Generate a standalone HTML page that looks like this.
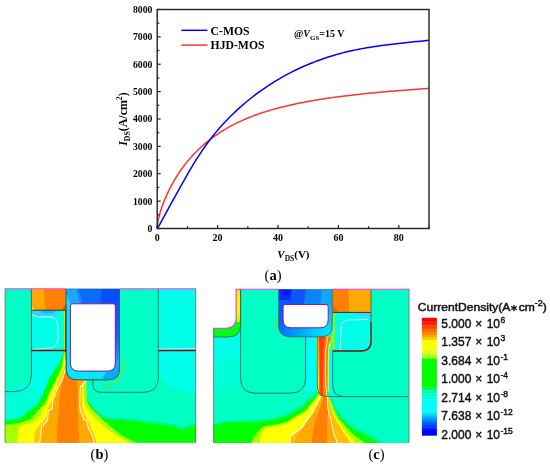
<!DOCTYPE html>
<html><head><meta charset="utf-8"><title>IDS-VDS and current density</title>
<style>html,body{margin:0;padding:0;background:#fff;}body{width:550px;height:467px;overflow:hidden;}svg{display:block;}</style>
</head><body>
<svg width="550" height="467" viewBox="0 0 550 467">
<rect width="550" height="467" fill="#ffffff"/>
<clipPath id="cb"><rect x="157.2" y="9.5" width="271.8" height="219.0"/></clipPath>
<g clip-path="url(#cb)" fill="none" stroke-width="1.5">
<path d="M157.20,228.51 L157.32,225.97 L157.70,223.01 L158.32,219.67 L159.20,215.98 L160.32,211.99 L161.69,207.74 L163.31,203.26 L165.19,198.59 L167.31,193.78 L169.68,188.87 L172.30,183.89 L174.46,180.08 L176.61,176.51 L178.77,173.15 L180.93,169.98 L183.09,166.98 L185.24,164.14 L187.40,161.45 L189.56,158.89 L191.71,156.45 L193.87,154.12 L196.03,151.90 L198.19,149.77 L200.34,147.73 L202.50,145.77 L204.66,143.89 L206.81,142.09 L208.97,140.35 L211.13,138.68 L213.29,137.08 L215.44,135.53 L217.60,134.04 L219.76,132.61 L221.91,131.23 L224.07,129.90 L226.23,128.61 L228.39,127.38 L230.54,126.19 L232.70,125.04 L234.86,123.94 L237.01,122.87 L239.17,121.84 L241.33,120.85 L243.49,119.89 L245.64,118.96 L247.80,118.06 L249.96,117.20 L252.11,116.36 L254.27,115.54 L256.43,114.76 L258.59,113.99 L260.74,113.25 L262.90,112.54 L265.06,111.84 L267.21,111.17 L269.37,110.51 L271.53,109.88 L273.69,109.26 L275.84,108.66 L278.00,108.08 L280.16,107.52 L282.31,106.97 L284.47,106.43 L286.63,105.91 L288.79,105.41 L290.94,104.92 L293.10,104.44 L295.26,103.97 L297.41,103.52 L299.57,103.08 L301.73,102.65 L303.89,102.23 L306.04,101.82 L308.20,101.42 L310.36,101.04 L312.51,100.66 L314.67,100.29 L316.83,99.93 L318.99,99.58 L321.14,99.23 L323.30,98.90 L325.46,98.57 L327.61,98.25 L329.77,97.94 L331.93,97.63 L334.09,97.34 L336.24,97.04 L338.40,96.76 L340.56,96.48 L342.71,96.21 L344.87,95.94 L347.03,95.68 L349.19,95.42 L351.34,95.17 L353.50,94.92 L355.66,94.68 L357.81,94.44 L359.97,94.21 L362.13,93.98 L364.29,93.76 L366.44,93.54 L368.60,93.32 L370.76,93.11 L372.91,92.90 L375.07,92.69 L377.23,92.49 L379.39,92.29 L381.54,92.10 L383.70,91.91 L385.86,91.72 L388.01,91.53 L390.17,91.35 L392.33,91.17 L394.49,90.99 L396.64,90.81 L398.80,90.64 L400.96,90.46 L403.11,90.29 L405.27,90.13 L407.43,89.96 L409.59,89.79 L411.74,89.63 L413.90,89.47 L416.06,89.31 L418.21,89.15 L420.37,89.00 L422.53,88.84 L424.69,88.69 L426.84,88.54 L429.00,88.38" stroke="#ff3333"/>
<path d="M157.20,228.50 L157.32,228.46 L157.70,227.92 L158.32,226.87 L159.20,225.33 L160.32,223.31 L161.69,220.81 L163.31,217.85 L165.19,214.42 L167.31,210.54 L169.68,206.22 L172.30,201.46 L174.46,197.56 L176.61,193.68 L178.77,189.81 L180.93,185.95 L183.09,182.12 L185.24,178.29 L187.40,174.49 L189.56,170.71 L191.71,167.01 L193.87,163.42 L196.03,159.95 L198.19,156.59 L200.34,153.32 L202.50,150.13 L204.66,147.03 L206.81,144.01 L208.97,141.08 L211.13,138.24 L213.29,135.50 L215.44,132.85 L217.60,130.28 L219.76,127.79 L221.91,125.36 L224.07,123.01 L226.23,120.72 L228.39,118.49 L230.54,116.32 L232.70,114.19 L234.86,112.13 L237.01,110.11 L239.17,108.14 L241.33,106.21 L243.49,104.33 L245.64,102.50 L247.80,100.71 L249.96,98.96 L252.11,97.25 L254.27,95.58 L256.43,93.95 L258.59,92.35 L260.74,90.80 L262.90,89.28 L265.06,87.79 L267.21,86.34 L269.37,84.92 L271.53,83.54 L273.69,82.18 L275.84,80.86 L278.00,79.57 L280.16,78.31 L282.31,77.08 L284.47,75.88 L286.63,74.70 L288.79,73.56 L290.94,72.44 L293.10,71.35 L295.26,70.29 L297.41,69.25 L299.57,68.24 L301.73,67.25 L303.89,66.29 L306.04,65.35 L308.20,64.44 L310.36,63.55 L312.51,62.69 L314.67,61.85 L316.83,61.03 L318.99,60.23 L321.14,59.46 L323.30,58.71 L325.46,57.98 L327.61,57.27 L329.77,56.58 L331.93,55.91 L334.09,55.27 L336.24,54.64 L338.40,54.04 L340.56,53.45 L342.71,52.88 L344.87,52.34 L347.03,51.81 L349.19,51.30 L351.34,50.81 L353.50,50.34 L355.66,49.89 L357.81,49.45 L359.97,49.03 L362.13,48.62 L364.29,48.23 L366.44,47.85 L368.60,47.49 L370.76,47.14 L372.91,46.79 L375.07,46.47 L377.23,46.15 L379.39,45.84 L381.54,45.54 L383.70,45.25 L385.86,44.97 L388.01,44.69 L390.17,44.42 L392.33,44.16 L394.49,43.91 L396.64,43.66 L398.80,43.42 L400.96,43.18 L403.11,42.95 L405.27,42.72 L407.43,42.50 L409.59,42.27 L411.74,42.05 L413.90,41.84 L416.06,41.62 L418.21,41.41 L420.37,41.20 L422.53,40.99 L424.69,40.78 L426.84,40.58 L429.00,40.37" stroke="#0000ff"/>
</g>
<rect x="157.2" y="9.5" width="271.8" height="219.0" fill="none" stroke="#222" stroke-width="1.4"/>
<line x1="157.2" y1="228.50" x2="160.7" y2="228.50" stroke="#222" stroke-width="1.2"/>
<text x="152.4" y="231.90" text-anchor="end" font-family="'Liberation Serif', serif" font-weight="bold" font-size="9.7">0</text>
<line x1="157.2" y1="214.81" x2="159.4" y2="214.81" stroke="#222" stroke-width="1.2"/>
<line x1="157.2" y1="201.12" x2="160.7" y2="201.12" stroke="#222" stroke-width="1.2"/>
<text x="152.4" y="204.52" text-anchor="end" font-family="'Liberation Serif', serif" font-weight="bold" font-size="9.7">1000</text>
<line x1="157.2" y1="187.43" x2="159.4" y2="187.43" stroke="#222" stroke-width="1.2"/>
<line x1="157.2" y1="173.74" x2="160.7" y2="173.74" stroke="#222" stroke-width="1.2"/>
<text x="152.4" y="177.14" text-anchor="end" font-family="'Liberation Serif', serif" font-weight="bold" font-size="9.7">2000</text>
<line x1="157.2" y1="160.05" x2="159.4" y2="160.05" stroke="#222" stroke-width="1.2"/>
<line x1="157.2" y1="146.36" x2="160.7" y2="146.36" stroke="#222" stroke-width="1.2"/>
<text x="152.4" y="149.76" text-anchor="end" font-family="'Liberation Serif', serif" font-weight="bold" font-size="9.7">3000</text>
<line x1="157.2" y1="132.67" x2="159.4" y2="132.67" stroke="#222" stroke-width="1.2"/>
<line x1="157.2" y1="118.98" x2="160.7" y2="118.98" stroke="#222" stroke-width="1.2"/>
<text x="152.4" y="122.38" text-anchor="end" font-family="'Liberation Serif', serif" font-weight="bold" font-size="9.7">4000</text>
<line x1="157.2" y1="105.29" x2="159.4" y2="105.29" stroke="#222" stroke-width="1.2"/>
<line x1="157.2" y1="91.60" x2="160.7" y2="91.60" stroke="#222" stroke-width="1.2"/>
<text x="152.4" y="95.00" text-anchor="end" font-family="'Liberation Serif', serif" font-weight="bold" font-size="9.7">5000</text>
<line x1="157.2" y1="77.91" x2="159.4" y2="77.91" stroke="#222" stroke-width="1.2"/>
<line x1="157.2" y1="64.22" x2="160.7" y2="64.22" stroke="#222" stroke-width="1.2"/>
<text x="152.4" y="67.62" text-anchor="end" font-family="'Liberation Serif', serif" font-weight="bold" font-size="9.7">6000</text>
<line x1="157.2" y1="50.53" x2="159.4" y2="50.53" stroke="#222" stroke-width="1.2"/>
<line x1="157.2" y1="36.84" x2="160.7" y2="36.84" stroke="#222" stroke-width="1.2"/>
<text x="152.4" y="40.24" text-anchor="end" font-family="'Liberation Serif', serif" font-weight="bold" font-size="9.7">7000</text>
<line x1="157.2" y1="23.15" x2="159.4" y2="23.15" stroke="#222" stroke-width="1.2"/>
<line x1="157.2" y1="9.46" x2="160.7" y2="9.46" stroke="#222" stroke-width="1.2"/>
<text x="152.4" y="12.86" text-anchor="end" font-family="'Liberation Serif', serif" font-weight="bold" font-size="9.7">8000</text>
<line x1="157.20" y1="228.5" x2="157.20" y2="225.0" stroke="#222" stroke-width="1.2"/>
<text x="157.20" y="240.6" text-anchor="middle" font-family="'Liberation Serif', serif" font-weight="bold" font-size="10">0</text>
<line x1="187.40" y1="228.5" x2="187.40" y2="226.3" stroke="#222" stroke-width="1.2"/>
<line x1="217.60" y1="228.5" x2="217.60" y2="225.0" stroke="#222" stroke-width="1.2"/>
<text x="217.60" y="240.6" text-anchor="middle" font-family="'Liberation Serif', serif" font-weight="bold" font-size="10">20</text>
<line x1="247.80" y1="228.5" x2="247.80" y2="226.3" stroke="#222" stroke-width="1.2"/>
<line x1="278.00" y1="228.5" x2="278.00" y2="225.0" stroke="#222" stroke-width="1.2"/>
<text x="278.00" y="240.6" text-anchor="middle" font-family="'Liberation Serif', serif" font-weight="bold" font-size="10">40</text>
<line x1="308.20" y1="228.5" x2="308.20" y2="226.3" stroke="#222" stroke-width="1.2"/>
<line x1="338.40" y1="228.5" x2="338.40" y2="225.0" stroke="#222" stroke-width="1.2"/>
<text x="338.40" y="240.6" text-anchor="middle" font-family="'Liberation Serif', serif" font-weight="bold" font-size="10">60</text>
<line x1="368.60" y1="228.5" x2="368.60" y2="226.3" stroke="#222" stroke-width="1.2"/>
<line x1="398.80" y1="228.5" x2="398.80" y2="225.0" stroke="#222" stroke-width="1.2"/>
<text x="398.80" y="240.6" text-anchor="middle" font-family="'Liberation Serif', serif" font-weight="bold" font-size="10">80</text>
<line x1="429.00" y1="228.5" x2="429.00" y2="226.3" stroke="#222" stroke-width="1.2"/>
<text x="277.3" y="257.8" font-family="'Liberation Serif', serif" font-weight="bold" font-size="11"><tspan font-style="italic">V</tspan><tspan font-size="7.5" dy="2.8">DS</tspan><tspan dy="-2.8">(V)</tspan></text>
<text transform="translate(126.8,145.8) rotate(-90)" font-family="'Liberation Serif', serif" font-weight="bold" font-size="11.9"><tspan font-style="italic">I</tspan><tspan font-size="7.8" dy="2.8">DS</tspan><tspan dy="-2.8">(A/cm</tspan><tspan font-size="7.8" dy="-4.5">2</tspan><tspan dy="4.5">)</tspan></text>
<line x1="181.3" y1="30.3" x2="207.5" y2="30.3" stroke="#0000ff" stroke-width="1.5"/>
<line x1="181.3" y1="45.1" x2="207.5" y2="45.1" stroke="#ff3333" stroke-width="1.5"/>
<text x="210.6" y="34.6" font-family="'Liberation Serif', serif" font-weight="bold" font-size="11.7">C-MOS</text>
<text x="210.6" y="48.9" font-family="'Liberation Serif', serif" font-weight="bold" font-size="11.7">HJD-MOS</text>
<text x="294" y="36.8" font-family="'Liberation Serif', serif" font-weight="bold" font-size="10">@<tspan font-style="italic">V</tspan><tspan font-size="7" dy="2.8">GS</tspan><tspan dy="-2.8">=15 V</tspan></text>
<text x="264.6" y="279.6" font-family="'Liberation Serif', serif" font-size="14.5">(<tspan font-weight="bold">a</tspan>)</text>
<clipPath id="clipb"><rect x="4.8" y="288.8" width="191.2" height="154.0"/></clipPath>
<g clip-path="url(#clipb)">
<rect x="4.8" y="288.8" width="191.2" height="154.0" fill="#00ffc4"/>
<polygon points="158.3,288.8 196.0,288.8 196.0,350.3 158.3,350.3" fill="#00ffe8" />
<path d="M158.3,350.3 H196.0 V394.5 Q183,391.5 174.3,388 Q165,383 158.3,375 Z" fill="#00ffe8"/>
<polygon points="158.3,351.0 196.0,351.0 196.0,356.0 158.3,357.0" fill="#00fff4" />
<polygon points="31.4,350.3 66.2,350.3 66.2,382.0 50.0,400.0 38.0,398.0 31.4,380.0" fill="#00ffe8" />
<polygon points="4.8,392.0 31.4,380.0 38.0,398.0 50.0,400.0 35.0,415.0 4.8,422.0" fill="#00ffd8" />
<polygon points="31.4,288.8 65.8,288.8 65.8,310.2 31.4,310.2" fill="#ff7f00" />
<polygon points="31.4,288.8 43.5,288.8 45.5,310.2 31.4,310.2" fill="#ffaa00" />
<polygon points="31.4,306.0 35.0,310.2 31.4,310.2" fill="#ffff00" />
<polygon points="62.0,310.2 65.8,304.0 65.8,310.2" fill="#ff4000" />
<polygon points="31.4,310.2 65.8,310.2 65.8,350.3 31.4,350.3" fill="#00ffe8" />
<linearGradient id="gbw" x1="0" x2="1" y1="0" y2="0"><stop offset="0" stop-color="#00ffe8"/><stop offset="0.45" stop-color="#40ff40"/><stop offset="0.75" stop-color="#e0ff00"/><stop offset="1" stop-color="#ff9000"/></linearGradient>
<rect x="62.2" y="310.2" width="3.8" height="45" fill="url(#gbw)"/>
<polygon points="31.4,310.6 60.0,310.6 57.0,314.0 54.0,317.0 40.0,316.5 31.4,315.5" fill="#30d4ff" />
<polygon points="40.0,310.6 56.0,310.6 52.0,313.5 44.0,313.5" fill="#10b8ff" />
<path d="M31.8,314.8 Q38,318 45,317 L52,317 Q57.8,318.5 58,328 L57.6,341 Q56,347.5 49,348.3 L32.8,349.6" fill="none" stroke="#f0fff8" stroke-width="0.9"/>
<polyline points="65.5,310.5 65.5,374.0" fill="none" stroke="#c01000" stroke-width="0.90" />
<path d="M123.5,360 Q124.5,382 106,387" fill="none" stroke="#30ee98" stroke-width="4.6" stroke-linecap="round" opacity="0.9"/>
<path d="M31.4,288.8 V374 Q31.4,391.6 14,391.6 H4.8" fill="none" stroke="#505050" stroke-width="0.8"/>
<polyline points="31.4,310.2 66.0,310.2" fill="none" stroke="#303030" stroke-width="1.00" />
<polygon points="64.5,350.0 63.9,350.0 63.9,352.0 63.2,352.0 63.2,354.0 62.6,354.0 62.6,356.0 62.0,356.0 62.0,358.0 61.2,358.0 61.2,360.0 60.3,360.0 60.3,362.0 59.5,362.0 59.5,364.0 58.1,364.0 58.1,366.0 56.8,366.0 56.8,368.0 55.4,368.0 55.4,370.0 54.0,370.0 54.0,372.0 52.8,372.0 52.8,374.0 51.5,374.0 51.5,376.0 50.2,376.0 50.2,378.2 49.0,378.2 49.0,380.4 48.2,380.4 48.2,382.5 47.3,382.5 47.3,384.7 46.5,384.7 46.5,386.8 45.6,386.8 45.6,388.9 44.7,388.9 44.7,391.1 43.8,391.1 43.8,393.2 42.7,393.2 42.7,395.3 41.7,395.3 41.7,397.5 40.6,397.5 40.6,399.6 39.5,399.6 39.5,401.8 38.5,401.8 38.5,404.0 36.3,404.0 36.3,406.0 34.4,406.0 34.4,407.6 32.5,407.6 32.5,409.3 30.4,409.3 30.4,410.4 28.2,410.4 28.2,411.4 26.6,411.4 26.6,413.5 25.0,413.5 25.0,415.7 22.0,415.7 22.0,418.0 19.7,418.0 19.7,418.5 17.3,418.5 17.3,419.0 15.0,419.0 15.0,419.5 13.0,419.5 13.0,419.8 10.9,419.8 10.9,420.1 8.9,420.1 8.9,420.4 6.8,420.4 6.8,420.7 4.8,420.7 4.8,421.0 4.8,444.3 196.0,444.3 196.0,424.0 194.1,424.0 194.1,424.6 192.1,424.6 192.1,425.2 190.2,425.2 190.2,425.8 188.3,425.8 188.3,426.8 186.3,426.8 186.3,427.7 184.4,427.7 184.4,428.7 182.5,428.7 182.5,428.0 180.6,428.0 180.6,427.2 178.6,427.2 178.6,426.5 176.7,426.5 176.7,425.8 174.3,425.8 174.3,425.3 171.8,425.3 171.8,424.9 169.4,424.9 169.4,424.4 167.0,424.4 167.0,423.9 164.9,423.9 164.9,423.7 162.7,423.7 162.7,423.5 160.6,423.5 160.6,423.3 158.5,423.3 158.5,423.1 156.3,423.1 156.3,422.8 154.2,422.8 154.2,422.6 152.1,422.6 152.1,422.4 149.9,422.4 149.9,422.2 147.8,422.2 147.8,422.0 145.5,422.0 145.5,421.6 143.2,421.6 143.2,421.2 140.8,421.2 140.8,420.8 138.5,420.8 138.5,420.4 136.2,420.4 136.2,420.0 133.9,420.0 133.9,419.8 131.6,419.8 131.6,419.6 129.3,419.6 129.3,419.5 127.0,419.5 127.0,419.3 124.7,419.3 124.7,419.1 122.4,419.1 122.4,419.1 120.1,419.1 120.1,419.1 117.7,419.1 117.7,419.1 115.4,419.1 115.4,419.1 113.1,419.1 113.1,419.1 110.7,419.1 110.7,418.5 108.4,418.5 108.4,417.9 106.0,417.9 106.0,417.3 103.3,417.3 103.3,416.0 100.7,416.0 100.7,414.6 98.6,414.6 98.6,412.5 96.4,412.5 96.4,410.3 94.2,410.3 94.2,407.6 92.1,407.6 92.1,405.0 89.9,405.0 89.9,402.3 87.8,402.3 87.8,399.6 87.3,399.6 87.3,397.5 86.8,397.5 86.8,395.3 86.4,395.3 86.4,393.2 86.1,393.2 86.1,391.0 85.7,391.0 85.7,388.9 85.7,388.9 85.7,386.4 85.7,386.4 85.7,383.9 85.7,383.9 85.7,381.4 85.7,381.4 85.7,379.8 66.2,379.8" fill="#00ff00" />
<polyline points="196.0,424.0 194.1,424.0 194.1,424.6 192.1,424.6 192.1,425.2 190.2,425.2 190.2,425.8 188.3,425.8 188.3,426.8 186.3,426.8 186.3,427.7 184.4,427.7 184.4,428.7 182.5,428.7 182.5,428.0 180.6,428.0 180.6,427.2 178.6,427.2 178.6,426.5 176.7,426.5 176.7,425.8 174.3,425.8 174.3,425.3 171.8,425.3 171.8,424.9 169.4,424.9 169.4,424.4 167.0,424.4 167.0,423.9 164.9,423.9 164.9,423.7 162.7,423.7 162.7,423.5 160.6,423.5 160.6,423.3 158.5,423.3 158.5,423.1 156.3,423.1 156.3,422.8 154.2,422.8 154.2,422.6 152.1,422.6 152.1,422.4 149.9,422.4 149.9,422.2 147.8,422.2 147.8,422.0 145.5,422.0 145.5,421.6 143.2,421.6 143.2,421.2 140.8,421.2 140.8,420.8 138.5,420.8 138.5,420.4 136.2,420.4 136.2,420.0 133.9,420.0 133.9,419.8 131.6,419.8 131.6,419.6 129.3,419.6 129.3,419.5 127.0,419.5 127.0,419.3 124.7,419.3 124.7,419.1 122.4,419.1 122.4,419.1 120.1,419.1 120.1,419.1 117.7,419.1 117.7,419.1 115.4,419.1 115.4,419.1 113.1,419.1 113.1,419.1 110.7,419.1 110.7,418.5 108.4,418.5 108.4,417.9 106.0,417.9 106.0,417.3 103.3,417.3 103.3,416.0 100.7,416.0 100.7,414.6 98.6,414.6 98.6,412.5 96.4,412.5 96.4,410.3" fill="none" stroke="#00f890" stroke-width="2.00" />
<polygon points="65.0,351.5 64.3,351.5 64.3,353.7 63.7,353.7 63.7,355.8 63.0,355.8 63.0,358.0 62.8,358.0 62.8,360.1 62.5,360.1 62.5,362.2 62.2,362.2 62.2,364.4 62.0,364.4 62.0,366.5 61.2,366.5 61.2,368.8 60.5,368.8 60.5,371.0 59.5,371.0 59.5,373.2 58.5,373.2 58.5,375.5 57.2,375.5 57.2,377.9 56.0,377.9 56.0,380.4 55.0,380.4 55.0,382.4 54.0,382.4 54.0,384.5 52.9,384.5 52.9,386.8 51.8,386.8 51.8,389.0 50.6,389.0 50.6,391.0 49.5,391.0 49.5,393.0 48.7,393.0 48.7,395.2 48.0,395.2 48.0,397.3 47.2,397.3 47.2,399.5 46.1,399.5 46.1,402.0 45.0,402.0 45.0,404.5 42.5,404.5 42.5,406.8 40.0,406.8 40.0,409.0 38.3,409.0 38.3,411.0 36.7,411.0 36.7,413.0 35.0,413.0 35.0,415.0 33.0,415.0 33.0,417.2 31.0,417.2 31.0,419.5 28.8,419.5 28.8,420.2 26.5,420.2 26.5,421.0 24.2,421.0 24.2,421.8 22.0,421.8 22.0,422.5 19.7,422.5 19.7,423.0 17.3,423.0 17.3,423.5 15.0,423.5 15.0,424.0 13.0,424.0 13.0,424.2 10.9,424.2 10.9,424.4 8.9,424.4 8.9,424.6 6.8,424.6 6.8,424.8 4.8,424.8 4.8,425.0 4.8,444.3 140.0,444.3 138.1,444.3 138.1,443.3 136.2,443.3 136.2,442.2 134.3,442.2 134.3,441.2 132.0,441.2 132.0,440.1 129.7,440.1 129.7,438.9 127.4,438.9 127.4,437.8 125.1,437.8 125.1,436.6 122.8,436.6 122.8,435.5 120.5,435.5 120.5,433.7 118.3,433.7 118.3,431.8 116.0,431.8 116.0,430.0 114.0,430.0 114.0,428.3 112.0,428.3 112.0,426.7 110.0,426.7 110.0,425.0 108.0,425.0 108.0,423.3 106.0,423.3 106.0,421.7 104.0,421.7 104.0,420.0 102.0,420.0 102.0,418.0 100.0,418.0 100.0,416.0 98.0,416.0 98.0,414.0 96.0,414.0 96.0,412.0 94.0,412.0 94.0,410.0 92.0,410.0 92.0,408.0 90.5,408.0 90.5,406.0 89.0,406.0 89.0,404.0 88.0,404.0 88.0,401.5 87.0,401.5 87.0,399.0 86.9,399.0 86.9,397.0 86.8,397.0 86.8,395.0 86.6,395.0 86.6,393.0 86.5,393.0 86.5,391.0 86.5,391.0 86.5,388.8 86.5,388.8 86.5,386.5 86.5,386.5 86.5,384.3 86.5,384.3 86.5,382.0 86.5,382.0 86.5,379.8 66.2,379.8" fill="#a8ff00" />
<polygon points="65.5,352.0 65.0,352.0 65.0,354.0 64.5,354.0 64.5,356.0 64.0,356.0 64.0,358.0 63.8,358.0 63.8,360.2 63.5,360.2 63.5,362.4 63.2,362.4 63.2,364.6 63.0,364.6 63.0,366.8 62.5,366.8 62.5,368.9 62.0,368.9 62.0,371.0 60.9,371.0 60.9,373.7 59.8,373.7 59.8,376.4 58.7,376.4 58.7,378.5 57.6,378.5 57.6,380.7 56.5,380.7 56.5,382.9 55.5,382.9 55.5,385.0 54.4,385.0 54.4,386.8 53.2,386.8 53.2,388.5 52.0,388.5 52.0,390.9 50.7,390.9 50.7,393.2 49.8,393.2 49.8,395.3 48.9,395.3 48.9,397.5 48.0,397.5 48.0,399.6 47.2,399.6 47.2,402.3 46.5,402.3 46.5,405.0 44.5,405.0 44.5,407.0 42.5,407.0 42.5,409.0 42.0,409.0 42.0,411.3 41.5,411.3 41.5,413.7 41.0,413.7 41.0,416.0 38.5,416.0 38.5,418.5 36.0,418.5 36.0,421.0 33.0,421.0 33.0,423.0 30.7,423.0 30.7,423.5 28.3,423.5 28.3,424.0 26.0,424.0 26.0,424.5 24.0,424.5 24.0,425.0 22.0,425.0 22.0,425.5 20.0,425.5 20.0,426.0 19.3,426.0 19.3,428.0 18.7,428.0 18.7,430.0 18.0,430.0 18.0,432.0 17.8,432.0 17.8,434.1 17.7,434.1 17.7,436.1 17.5,436.1 17.5,438.1 17.3,438.1 17.3,440.2 17.2,440.2 17.2,442.2 17.0,442.2 17.0,444.3 132.4,444.3 130.5,444.3 130.5,443.1 128.6,443.1 128.6,441.8 126.6,441.8 126.6,440.6 124.7,440.6 124.7,439.3 122.3,439.3 122.3,437.9 119.8,437.9 119.8,436.4 117.4,436.4 117.4,434.9 115.0,434.9 115.0,433.5 112.5,433.5 112.5,431.8 110.0,431.8 110.0,430.0 107.2,430.0 107.2,427.8 104.5,427.8 104.5,425.5 102.6,425.5 102.6,423.8 100.7,423.8 100.7,422.1 98.6,422.1 98.6,420.5 96.4,420.5 96.4,418.9 94.8,418.9 94.8,416.8 93.2,416.8 93.2,414.6 91.1,414.6 91.1,412.5 88.9,412.5 88.9,410.3 87.3,410.3 87.3,408.1 85.7,408.1 85.7,406.0 85.1,406.0 85.1,403.9 84.6,403.9 84.6,401.7 84.0,401.7 84.0,399.6 83.9,399.6 83.9,397.5 83.8,397.5 83.8,395.3 83.6,395.3 83.6,393.1 83.5,393.1 83.5,391.0 83.5,391.0 83.5,388.6 83.5,388.6 83.5,386.2 83.6,386.2 83.6,383.8 83.6,383.8 83.6,381.4 84.0,381.4 84.0,379.8 66.2,379.8" fill="#ffff00" />
<polygon points="66.0,356.0 65.7,356.0 65.7,358.0 65.4,358.0 65.4,360.0 65.1,360.0 65.1,362.0 64.8,362.0 64.8,364.0 64.5,364.0 64.5,366.0 64.3,366.0 64.3,368.0 64.0,368.0 64.0,370.0 63.0,370.0 63.0,372.5 62.0,372.5 62.0,375.0 61.0,375.0 61.0,377.0 60.0,377.0 60.0,379.0 59.0,379.0 59.0,381.0 58.0,381.0 58.0,383.0 57.4,383.0 57.4,385.0 56.9,385.0 56.9,387.0 56.3,387.0 56.3,389.0 55.5,389.0 55.5,391.3 54.8,391.3 54.8,393.7 54.0,393.7 54.0,396.0 53.2,396.0 53.2,398.0 52.3,398.0 52.3,400.0 51.5,400.0 51.5,402.0 50.5,402.0 50.5,404.0 49.5,404.0 49.5,406.0 48.5,406.0 48.5,408.0 47.6,408.0 47.6,410.0 47.3,410.0 47.3,412.0 47.0,412.0 47.0,414.0 46.8,414.0 46.8,416.0 46.5,416.0 46.5,418.0 44.8,418.0 44.8,420.5 43.0,420.5 43.0,423.0 40.5,423.0 40.5,425.5 38.0,425.5 38.0,428.0 36.5,428.0 36.5,430.5 35.0,430.5 35.0,433.0 34.8,433.0 34.8,435.3 34.5,435.3 34.5,437.5 34.3,437.5 34.3,439.8 34.0,439.8 34.0,442.0 33.8,442.0 33.8,444.3 97.0,444.3 96.5,444.3 96.5,442.2 96.0,442.2 96.0,440.1 95.5,440.1 95.5,438.1 95.0,438.1 95.0,436.0 94.2,436.0 94.2,434.0 93.3,434.0 93.3,432.0 92.5,432.0 92.5,430.0 91.5,430.0 91.5,427.5 90.5,427.5 90.5,425.0 89.5,425.0 89.5,422.5 88.5,422.5 88.5,420.0 87.2,420.0 87.2,418.0 86.0,418.0 86.0,416.0 84.8,416.0 84.8,413.5 83.5,413.5 83.5,411.0 83.0,411.0 83.0,409.0 82.5,409.0 82.5,407.0 82.0,407.0 82.0,405.0 82.0,405.0 82.0,402.8 82.0,402.8 82.0,400.5 82.0,400.5 82.0,398.2 82.0,398.2 82.0,396.0 82.1,396.0 82.1,394.0 82.2,394.0 82.2,392.0 82.3,392.0 82.3,390.0 82.4,390.0 82.4,388.0 82.5,388.0 82.5,386.0 83.3,386.0 83.3,383.9 84.2,383.9 84.2,381.9 85.0,381.9 85.0,379.8 66.2,379.8" fill="#ffc800" />
<polygon points="65.6,360.0 65.5,360.0 65.5,362.4 65.4,362.4 65.4,364.8 65.3,364.8 65.3,367.2 65.2,367.2 65.2,369.6 65.1,369.6 65.1,372.0 64.4,372.0 64.4,374.2 63.7,374.2 63.7,376.4 63.0,376.4 63.0,378.6 62.0,378.6 62.0,380.8 60.9,380.8 60.9,382.9 59.8,382.9 59.8,385.0 58.7,385.0 58.7,387.2 57.1,387.2 57.1,390.0 56.4,390.0 56.4,392.1 55.7,392.1 55.7,394.3 55.0,394.3 55.0,396.4 54.0,396.4 54.0,398.2 53.0,398.2 53.0,400.0 52.8,400.0 52.8,402.3 52.6,402.3 52.6,404.6 52.4,404.6 52.4,406.9 52.2,406.9 52.2,409.2 50.4,409.2 50.4,410.4 48.5,410.4 48.5,411.5 48.3,411.5 48.3,413.9 48.0,413.9 48.0,416.4 47.8,416.4 47.8,418.8 47.6,418.8 47.6,421.2 45.6,421.2 45.6,423.6 43.6,423.6 43.6,426.1 41.6,426.1 41.6,428.5 41.3,428.5 41.3,430.8 41.1,430.8 41.1,433.0 40.8,433.0 40.8,435.3 40.6,435.3 40.6,437.5 40.3,437.5 40.3,439.8 40.1,439.8 40.1,442.0 39.8,442.0 39.8,444.3 94.5,444.3 94.0,444.3 94.0,442.0 93.5,442.0 93.5,439.6 93.0,439.6 93.0,437.3 92.5,437.3 92.5,435.0 91.2,435.0 91.2,432.5 90.0,432.5 90.0,430.0 88.9,430.0 88.9,427.5 87.8,427.5 87.8,425.0 87.3,425.0 87.3,422.5 86.8,422.5 86.8,420.0 83.6,420.0 83.6,416.8 82.5,416.8 82.5,414.6 81.4,414.6 81.4,412.5 80.9,412.5 80.9,410.3 80.3,410.3 80.3,408.2 79.8,408.2 79.8,406.0 79.8,406.0 79.8,403.6 79.8,403.6 79.8,401.2 79.8,401.2 79.8,398.8 79.8,398.8 79.8,396.4 79.9,396.4 79.9,394.3 80.0,394.3 80.0,392.1 80.2,392.1 80.2,390.0 80.3,390.0 80.3,387.8 80.4,387.8 80.4,385.7 82.5,385.7 82.5,383.3 84.6,383.3 84.6,380.9 66.2,379.8" fill="#ffa800" />
<polygon points="65.8,362.0 65.7,362.0 65.7,364.0 65.6,364.0 65.6,366.0 65.5,366.0 65.5,368.0 65.4,368.0 65.4,370.0 65.3,370.0 65.3,372.0 64.9,372.0 64.9,374.2 64.4,374.2 64.4,376.3 64.0,376.3 64.0,378.5 63.3,378.5 63.3,380.7 62.7,380.7 62.7,382.8 62.0,382.8 62.0,385.0 61.4,385.0 61.4,387.4 60.9,387.4 60.9,389.7 60.3,389.7 60.3,392.1 60.0,392.1 60.0,394.5 59.8,394.5 59.8,397.0 59.5,397.0 59.5,399.4 59.3,399.4 59.3,401.8 59.2,401.8 59.2,403.9 59.1,403.9 59.1,406.1 58.9,406.1 58.9,408.2 58.8,408.2 58.8,410.4 58.7,410.4 58.7,412.5 58.5,412.5 58.5,414.6 58.3,414.6 58.3,416.7 58.1,416.7 58.1,418.8 57.9,418.8 57.9,420.8 57.7,420.8 57.7,422.9 57.5,422.9 57.5,425.0 57.4,425.0 57.4,427.1 57.3,427.1 57.3,429.3 57.3,429.3 57.3,431.4 57.2,431.4 57.2,433.6 57.1,433.6 57.1,435.7 57.0,435.7 57.0,437.9 57.0,437.9 57.0,440.0 56.9,440.0 56.9,442.2 56.8,442.2 56.8,444.3 79.5,444.3 79.4,444.3 79.4,442.2 79.3,442.2 79.3,440.2 79.2,440.2 79.2,438.1 79.1,438.1 79.1,436.1 79.0,436.1 79.0,434.0 78.8,434.0 78.8,431.8 78.6,431.8 78.6,429.5 78.4,429.5 78.4,427.2 78.2,427.2 78.2,425.0 78.1,425.0 78.1,422.8 78.1,422.8 78.1,420.5 78.0,420.5 78.0,418.2 78.0,418.2 78.0,416.0 77.9,416.0 77.9,413.8 77.8,413.8 77.8,411.5 77.8,411.5 77.8,409.2 77.7,409.2 77.7,407.0 77.7,407.0 77.7,404.7 77.7,404.7 77.7,402.4 77.7,402.4 77.7,400.1 77.7,400.1 77.7,397.9 77.7,397.9 77.7,395.6 77.7,395.6 77.7,393.3 77.7,393.3 77.7,391.0 77.6,391.0 77.6,388.9 77.5,388.9 77.5,386.8 77.3,386.8 77.3,384.6 77.2,384.6 77.2,382.5 77.1,382.5 77.1,380.4 77.0,380.4 77.0,379.8" fill="#ff7f00" />
<polyline points="65.6,360.0 65.5,360.0 65.5,362.4 65.4,362.4 65.4,364.8 65.3,364.8 65.3,367.2 65.2,367.2 65.2,369.6 65.1,369.6 65.1,372.0 64.4,372.0 64.4,374.2 63.7,374.2 63.7,376.4 63.0,376.4 63.0,378.6 62.0,378.6 62.0,380.8 60.9,380.8 60.9,382.9 59.8,382.9 59.8,385.0 58.7,385.0 58.7,387.2 57.1,387.2 57.1,390.0 56.4,390.0 56.4,392.1 55.7,392.1 55.7,394.3 55.0,394.3 55.0,396.4 54.0,396.4 54.0,398.2 53.0,398.2 53.0,400.0 52.8,400.0 52.8,402.3 52.6,402.3 52.6,404.6 52.4,404.6 52.4,406.9 52.2,406.9 52.2,409.2 50.4,409.2 50.4,410.4 48.5,410.4 48.5,411.5 48.3,411.5 48.3,413.9 48.0,413.9 48.0,416.4 47.8,416.4 47.8,418.8 47.6,418.8 47.6,421.2 45.6,421.2 45.6,423.6 43.6,423.6 43.6,426.1 41.6,426.1 41.6,428.5 41.3,428.5 41.3,430.8 41.1,430.8 41.1,433.0 40.8,433.0 40.8,435.3 40.6,435.3 40.6,437.5 40.3,437.5 40.3,439.8 40.1,439.8 40.1,442.0 39.8,442.0 39.8,444.3" fill="none" stroke="#ffffff" stroke-width="0.90" />
<polyline points="94.5,444.3 94.0,444.3 94.0,442.0 93.5,442.0 93.5,439.6 93.0,439.6 93.0,437.3 92.5,437.3 92.5,435.0 91.2,435.0 91.2,432.5 90.0,432.5 90.0,430.0 88.9,430.0 88.9,427.5 87.8,427.5 87.8,425.0 87.3,425.0 87.3,422.5 86.8,422.5 86.8,420.0 83.6,420.0 83.6,416.8 82.5,416.8 82.5,414.6 81.4,414.6 81.4,412.5 80.9,412.5 80.9,410.3 80.3,410.3 80.3,408.2 79.8,408.2 79.8,406.0 79.8,406.0 79.8,403.6 79.8,403.6 79.8,401.2 79.8,401.2 79.8,398.8 79.8,398.8 79.8,396.4 79.9,396.4 79.9,394.3 80.0,394.3 80.0,392.1 80.2,392.1 80.2,390.0 80.3,390.0 80.3,387.8 80.4,387.8 80.4,385.7 82.5,385.7 82.5,383.3 84.6,383.3 84.6,380.9" fill="none" stroke="#ffffff" stroke-width="0.90" />
<linearGradient id="gbr" x1="0" x2="0" y1="0" y2="1"><stop offset="0" stop-color="#0050ff"/><stop offset="0.6" stop-color="#0070ff"/><stop offset="1" stop-color="#00b0ff"/></linearGradient>
<path d="M66.2,288.8 H119.4 V368.8 Q119.4,379.8 108.4,379.8 H77.2 Q66.2,379.8 66.2,368.8 Z" fill="#00e8ff" stroke="#505050" stroke-width="0.8"/>
<rect x="114.8" y="288.8" width="4.6" height="78" fill="url(#gbr)"/>
<path d="M106,372 Q114.8,372 115,360 L119.4,360 L119.4,368.8 Q119.4,379.8 108.4,379.8 L102,379.8 Z" fill="#00b0ff"/>
<polygon points="66.2,288.8 119.4,288.8 119.4,304.0 66.2,304.0" fill="#0a8cff" />
<polygon points="66.2,288.8 76.0,288.8 80.0,304.0 66.2,304.0" fill="#18a8ff" />
<polygon points="66.2,294.0 70.5,304.0 66.2,304.0" fill="#20d8ff" />
<polygon points="78.0,288.8 101.0,288.8 101.0,304.0 83.0,304.0" fill="#0a6cff" />
<polygon points="101.0,288.8 119.4,288.8 119.4,304.0 101.0,304.0" fill="#0450ff" />
<path d="M66.2,288.8 H119.4 V368.8 Q119.4,379.8 108.4,379.8 H77.2 Q66.2,379.8 66.2,368.8 Z" fill="none" stroke="#505050" stroke-width="0.8"/>
<path d="M70.4,305.8 Q70.4,303.8 72.4,303.8 H113.3 Q115.3,303.8 115.3,305.8 V363.1 Q115.3,371.1 107.3,371.1 H78.4 Q70.4,371.1 70.4,363.1 Z" fill="#ffffff" stroke="#9010a0" stroke-width="1.0"/>
<path d="M92.8,379.8 V384 Q92.8,392.3 101,392.3 H143.5 Q158.3,392.3 158.3,377.5 V288.8" fill="none" stroke="#505050" stroke-width="0.8"/>
<polyline points="31.4,350.5 66.2,350.5" fill="none" stroke="#8b0a0a" stroke-width="1.40" />
<polyline points="158.3,349.2 196.0,348.6" fill="none" stroke="#ffffff" stroke-width="0.80" />
<polyline points="158.3,350.5 196.0,350.5" fill="none" stroke="#8b0a0a" stroke-width="1.40" />
</g>
<polyline points="4.8,288.8 66.2,288.8" fill="none" stroke="#ff30ff" stroke-width="1.10" />
<polyline points="119.4,288.8 196.0,288.8" fill="none" stroke="#ff30ff" stroke-width="1.10" />
<polyline points="5.1,288.8 5.1,442.8" fill="none" stroke="#707070" stroke-width="0.80" />
<polyline points="195.7,288.8 195.7,442.8" fill="none" stroke="#707070" stroke-width="0.80" />
<text x="90.6" y="459.4" font-family="'Liberation Serif', serif" font-size="14.5">(<tspan font-weight="bold">b</tspan>)</text>
<clipPath id="clipc"><path d="M236.1,289.2 H409.3 V443.0 H213.3 V328.2 H226 Q236.1,328.2 236.1,318 Z"/></clipPath>
<g clip-path="url(#clipc)">
<rect x="213.3" y="289.2" width="196.0" height="153.8" fill="#00ffc4"/>
<path d="M213.3,328 H240.6 V378 Q232,384 224,388 Q218,391 213.3,396 Z" fill="#00ffd8"/>
<path d="M213.3,328 H240.6 V360 Q228,356 213.3,364 Z" fill="#00ffe8"/>
<path d="M213.3,328.2 H226 Q236.1,328.2 236.1,318 V289.2 H240.6 V325 Q240.6,337 228,337 H213.3 Z" fill="#00ff10"/>
<linearGradient id="gcy" x1="0" x2="0" y1="0" y2="1"><stop offset="0" stop-color="#ffe000"/><stop offset="0.6" stop-color="#ffff00"/><stop offset="1" stop-color="#a0ff00"/></linearGradient>
<rect x="236.1" y="289.2" width="4.5" height="32.8" fill="url(#gcy)"/>
<path d="M213.3,337 H228 Q240.6,337 240.6,325 V289.2" fill="none" stroke="#505050" stroke-width="0.8"/>
<ellipse cx="278" cy="323" rx="3.5" ry="8" fill="#30f090"/>
<polygon points="305.6,336.0 332.7,336.0 332.7,392.0 305.6,392.0" fill="#00fff4" />
<polygon points="332.6,289.2 371.0,289.2 371.0,312.4 332.6,312.4" fill="#ffaa00" />
<polygon points="332.6,289.2 348.0,289.2 349.5,312.4 332.6,312.4" fill="#ff7f00" />
<polygon points="332.6,304.0 339.0,312.4 332.6,312.4" fill="#ff6000" />
<path d="M332.6,312.4 H371 V341 Q371,351 361,351 H332.6 Z" fill="#00ffe8"/>
<linearGradient id="gcl" x1="0" x2="1" y1="0" y2="0"><stop offset="0" stop-color="#ffd000"/><stop offset="0.35" stop-color="#80ff00"/><stop offset="1" stop-color="#00ffe8"/></linearGradient>
<rect x="332.6" y="312.6" width="3.4" height="38.4" fill="url(#gcl)"/>
<polygon points="352.0,312.6 371.0,312.6 371.0,318.0 362.0,316.0" fill="#50c8ff" />
<path d="M340.2,350 L341,327 Q342,320.5 348,320 L368,319.3" fill="none" stroke="#f0fff8" stroke-width="0.9"/>
<path d="M332.6,351 H361 Q371,351 371,341 V322" fill="none" stroke="#8b0a0a" stroke-width="1.4"/>
<polyline points="332.6,312.4 371.0,312.4" fill="none" stroke="#303030" stroke-width="1.00" />
<polyline points="371.0,289.2 371.0,322.0" fill="none" stroke="#505050" stroke-width="0.80" />
<polygon points="319.0,390.7 316.9,390.7 316.9,393.4 314.7,393.4 314.7,396.2 312.5,396.2 312.5,397.6 310.4,397.6 310.4,399.1 308.2,399.1 308.2,400.5 306.0,400.5 306.0,403.2 303.8,403.2 303.8,406.0 301.6,406.0 301.6,407.1 299.5,407.1 299.5,408.2 297.3,408.2 297.3,409.3 295.1,409.3 295.1,410.7 292.9,410.7 292.9,412.2 290.7,412.2 290.7,413.6 288.5,413.6 288.5,414.4 286.4,414.4 286.4,415.2 284.2,415.2 284.2,416.1 282.0,416.1 282.0,416.9 279.8,416.9 279.8,417.4 277.6,417.4 277.6,418.0 275.5,418.0 275.5,418.6 273.3,418.6 273.3,419.1 271.1,419.1 271.1,419.4 268.9,419.4 268.9,419.6 266.7,419.6 266.7,419.9 264.5,419.9 264.5,420.2 262.3,420.2 262.3,420.4 260.1,420.4 260.1,420.6 258.0,420.6 258.0,420.9 255.8,420.9 255.8,421.1 253.6,421.1 253.6,421.3 251.4,421.3 251.4,421.3 249.2,421.3 249.2,421.3 247.1,421.3 247.1,421.3 244.9,421.3 244.9,421.3 242.7,421.3 242.7,421.3 240.5,421.3 240.5,421.3 238.3,421.3 238.3,421.3 236.2,421.3 236.2,421.3 234.0,421.3 234.0,421.3 231.8,421.3 231.8,421.3 229.6,421.3 229.6,421.6 227.4,421.6 227.4,421.9 225.3,421.9 225.3,422.1 223.1,422.1 223.1,422.4 220.9,422.4 220.9,422.9 218.8,422.9 218.8,423.4 216.6,423.4 216.6,424.0 214.4,424.0 214.4,424.5 213.3,424.5 213.3,424.8 213.3,444.5 386.0,444.5 384.0,444.5 384.0,443.4 382.0,443.4 382.0,442.2 380.0,442.2 380.0,441.1 378.0,441.1 378.0,440.1 376.0,440.1 376.0,439.0 374.0,439.0 374.0,437.8 372.0,437.8 372.0,436.7 370.0,436.7 370.0,435.5 367.2,435.5 367.2,434.0 364.5,434.0 364.5,432.5 362.3,432.5 362.3,431.7 360.2,431.7 360.2,430.8 358.0,430.8 358.0,430.0 355.5,430.0 355.5,428.2 353.0,428.2 353.0,426.5 350.8,426.5 350.8,424.5 348.5,424.5 348.5,422.5 346.2,422.5 346.2,420.5 344.0,420.5 344.0,418.5 342.0,418.5 342.0,416.5 340.0,416.5 340.0,414.5 338.5,414.5 338.5,412.2 337.0,412.2 337.0,410.0 335.5,410.0 335.5,407.5 334.0,407.5 334.0,405.0 333.0,405.0 333.0,403.0 332.0,403.0 332.0,401.1 331.0,401.1 331.0,399.1 329.0,399.1 329.0,396.0" fill="#00ff00" />
<polyline points="382.0,442.2 380.0,442.2 380.0,441.1 378.0,441.1 378.0,440.1 376.0,440.1 376.0,439.0 374.0,439.0 374.0,437.8 372.0,437.8 372.0,436.7 370.0,436.7 370.0,435.5 367.2,435.5 367.2,434.0 364.5,434.0 364.5,432.5 362.3,432.5 362.3,431.7 360.2,431.7 360.2,430.8 358.0,430.8 358.0,430.0 355.5,430.0 355.5,428.2 353.0,428.2 353.0,426.5 350.8,426.5 350.8,424.5 348.5,424.5 348.5,422.5 346.2,422.5 346.2,420.5 344.0,420.5 344.0,418.5 342.0,418.5 342.0,416.5 340.0,416.5 340.0,414.5 338.5,414.5 338.5,412.2 337.0,412.2 337.0,410.0 335.5,410.0 335.5,407.5 334.0,407.5 334.0,405.0 333.0,405.0 333.0,403.0 332.0,403.0 332.0,401.1 331.0,401.1 331.0,399.1 329.0,399.1 329.0,396.0" fill="none" stroke="#00f890" stroke-width="2.00" />
<polyline points="319.0,390.7 316.9,390.7 316.9,393.4 314.7,393.4 314.7,396.2 312.5,396.2 312.5,397.6 310.4,397.6 310.4,399.1 308.2,399.1 308.2,400.5 306.0,400.5 306.0,403.2 303.8,403.2 303.8,406.0 301.6,406.0 301.6,407.1 299.5,407.1 299.5,408.2 297.3,408.2 297.3,409.3 295.1,409.3 295.1,410.7 292.9,410.7 292.9,412.2 290.7,412.2 290.7,413.6 288.5,413.6 288.5,414.4 286.4,414.4 286.4,415.2 284.2,415.2 284.2,416.1 282.0,416.1 282.0,416.9 279.8,416.9 279.8,417.4 277.6,417.4 277.6,418.0 275.5,418.0 275.5,418.6 273.3,418.6 273.3,419.1 271.1,419.1 271.1,419.4 268.9,419.4 268.9,419.6 266.7,419.6 266.7,419.9 264.5,419.9 264.5,420.2 262.3,420.2 262.3,420.4 260.1,420.4 260.1,420.6 258.0,420.6 258.0,420.9 255.8,420.9 255.8,421.1 253.6,421.1 253.6,421.3 251.4,421.3 251.4,421.3 249.2,421.3 249.2,421.3 247.1,421.3 247.1,421.3 244.9,421.3 244.9,421.3 242.7,421.3 242.7,421.3 240.5,421.3 240.5,421.3 238.3,421.3 238.3,421.3 236.2,421.3 236.2,421.3 234.0,421.3 234.0,421.3 231.8,421.3 231.8,421.3 229.6,421.3 229.6,421.6 227.4,421.6 227.4,421.9 225.3,421.9 225.3,422.1 223.1,422.1 223.1,422.4 220.9,422.4 220.9,422.9 218.8,422.9 218.8,423.4 216.6,423.4 216.6,424.0 214.4,424.0 214.4,424.5" fill="none" stroke="#00f890" stroke-width="1.60" />
<polygon points="319.0,394.0 317.2,394.0 317.2,396.5 315.3,396.5 315.3,399.0 313.5,399.0 313.5,401.5 311.7,401.5 311.7,404.0 309.8,404.0 309.8,406.5 308.0,406.5 308.0,409.0 306.0,409.0 306.0,410.5 304.0,410.5 304.0,412.0 302.0,412.0 302.0,413.5 299.7,413.5 299.7,414.8 297.3,414.8 297.3,416.2 295.0,416.2 295.0,417.5 292.7,417.5 292.7,418.8 290.3,418.8 290.3,420.2 288.0,420.2 288.0,421.5 286.0,421.5 286.0,422.1 284.0,422.1 284.0,422.8 282.0,422.8 282.0,423.4 280.0,423.4 280.0,424.0 278.0,424.0 278.0,424.3 276.0,424.3 276.0,424.6 274.0,424.6 274.0,425.0 272.0,425.0 272.0,425.3 269.7,425.3 269.7,425.6 267.3,425.6 267.3,425.9 265.0,425.9 265.0,426.2 262.8,426.2 262.8,428.1 260.5,428.1 260.5,430.0 258.5,430.0 258.5,432.5 256.5,432.5 256.5,435.0 254.8,435.0 254.8,437.5 253.0,437.5 253.0,440.0 252.0,440.0 252.0,442.2 251.0,442.2 251.0,444.5 368.0,444.5 366.0,444.5 366.0,443.0 364.0,443.0 364.0,441.5 362.0,441.5 362.0,440.0 360.0,440.0 360.0,438.7 358.0,438.7 358.0,437.3 356.0,437.3 356.0,436.0 354.0,436.0 354.0,434.0 352.0,434.0 352.0,432.0 349.8,432.0 349.8,429.5 347.5,429.5 347.5,427.0 345.8,427.0 345.8,425.0 344.0,425.0 344.0,423.0 342.0,423.0 342.0,421.0 340.0,421.0 340.0,419.0 338.5,419.0 338.5,416.5 337.0,416.5 337.0,414.0 335.8,414.0 335.8,411.5 334.5,411.5 334.5,409.0 333.7,409.0 333.7,407.0 332.8,407.0 332.8,405.0 332.0,405.0 332.0,403.0 331.0,403.0 331.0,400.5 330.0,400.5 330.0,398.0 329.0,398.0 329.0,396.0" fill="#a8ff00" />
<polygon points="319.0,396.2 317.4,396.2 317.4,398.4 315.8,398.4 315.8,400.5 314.2,400.5 314.2,402.7 312.6,402.7 312.6,404.9 310.4,404.9 310.4,407.4 308.2,407.4 308.2,410.0 306.0,410.0 306.0,412.5 303.8,412.5 303.8,413.6 301.6,413.6 301.6,414.7 299.5,414.7 299.5,415.8 297.3,415.8 297.3,416.9 295.1,416.9 295.1,418.7 292.9,418.7 292.9,420.6 290.7,420.6 290.7,422.4 288.5,422.4 288.5,423.2 286.4,423.2 286.4,424.0 284.2,424.0 284.2,424.8 282.0,424.8 282.0,425.6 279.8,425.6 279.8,425.9 277.6,425.9 277.6,426.1 275.5,426.1 275.5,426.4 273.3,426.4 273.3,426.7 271.1,426.7 271.1,427.1 268.9,427.1 268.9,427.4 266.7,427.4 266.7,427.8 264.5,427.8 264.5,430.6 262.4,430.6 262.4,433.3 261.7,433.3 261.7,435.5 260.9,435.5 260.9,437.6 260.2,437.6 260.2,439.8 259.9,439.8 259.9,442.1 259.5,442.1 259.5,444.5 357.4,444.5 355.4,444.5 355.4,441.8 353.5,441.8 353.5,439.0 350.9,439.0 350.9,436.4 348.4,436.4 348.4,433.8 346.4,433.8 346.4,431.2 344.5,431.2 344.5,428.7 342.6,428.7 342.6,426.1 340.7,426.1 340.7,423.5 338.8,423.5 338.8,420.9 336.8,420.9 336.8,418.4 335.6,418.4 335.6,415.9 334.3,415.9 334.3,413.3 333.4,413.3 333.4,411.1 332.6,411.1 332.6,409.0 331.7,409.0 331.7,406.8 331.1,406.8 331.1,404.6 330.4,404.6 330.4,402.3 329.8,402.3 329.8,400.1 329.1,400.1 329.1,397.8 328.5,397.8 328.5,396.0" fill="#ffff00" />
<polygon points="321.0,396.0 320.2,396.0 320.2,398.0 319.3,398.0 319.3,400.0 318.5,400.0 318.5,402.0 317.3,402.0 317.3,404.2 316.2,404.2 316.2,406.3 315.0,406.3 315.0,408.5 313.8,408.5 313.8,411.1 312.6,411.1 312.6,413.6 310.8,413.6 310.8,416.1 309.0,416.1 309.0,418.5 307.5,418.5 307.5,420.4 306.0,420.4 306.0,422.4 304.5,422.4 304.5,424.6 303.1,424.6 303.1,426.7 301.6,426.7 301.6,428.9 299.4,428.9 299.4,430.4 297.3,430.4 297.3,431.8 295.1,431.8 295.1,433.3 292.9,433.3 292.9,435.5 290.7,435.5 290.7,437.6 290.3,437.6 290.3,439.9 290.0,439.9 290.0,442.2 289.6,442.2 289.6,444.5 352.0,444.5 350.7,444.5 350.7,442.3 349.3,442.3 349.3,440.2 348.0,440.2 348.0,438.0 346.7,438.0 346.7,436.0 345.3,436.0 345.3,434.0 344.0,434.0 344.0,432.0 342.5,432.0 342.5,429.5 341.0,429.5 341.0,427.0 339.2,427.0 339.2,424.2 337.5,424.2 337.5,421.5 336.0,421.5 336.0,418.8 334.5,418.8 334.5,416.0 333.5,416.0 333.5,413.5 332.5,413.5 332.5,411.0 331.8,411.0 331.8,409.0 331.2,409.0 331.2,407.0 330.5,407.0 330.5,405.0 330.0,405.0 330.0,402.7 329.5,402.7 329.5,400.3 329.0,400.3 329.0,398.0 328.5,398.0 328.5,396.0" fill="#ffc000" />
<polygon points="322.5,398.0 321.3,398.0 321.3,400.3 320.2,400.3 320.2,402.7 319.0,402.7 319.0,405.0 318.0,405.0 318.0,407.0 317.0,407.0 317.0,409.0 316.0,409.0 316.0,411.0 314.2,411.0 314.2,413.8 312.5,413.8 312.5,416.5 310.8,416.5 310.8,418.8 309.0,418.8 309.0,421.0 307.2,421.0 307.2,423.2 305.5,423.2 305.5,425.5 303.8,425.5 303.8,427.8 302.0,427.8 302.0,430.0 300.2,430.0 300.2,432.5 298.5,432.5 298.5,435.0 297.2,435.0 297.2,437.5 296.0,437.5 296.0,440.0 295.5,440.0 295.5,442.2 295.0,442.2 295.0,444.5 338.1,444.5 337.5,444.5 337.5,442.4 336.8,442.4 336.8,440.2 336.0,440.2 336.0,438.1 335.1,438.1 335.1,435.9 334.3,435.9 334.3,433.8 333.6,433.8 333.6,431.2 333.0,431.2 333.0,428.7 332.3,428.7 332.3,426.1 332.0,426.1 332.0,424.2 331.6,424.2 331.6,422.2 331.3,422.2 331.3,420.3 331.0,420.3 331.0,418.4 330.1,418.4 330.1,416.4 329.1,416.4 329.1,414.5 328.8,414.5 328.8,412.2 328.5,412.2 328.5,410.0 328.1,410.0 328.1,407.8 327.8,407.8 327.8,405.5 327.7,405.5 327.7,403.5 327.6,403.5 327.6,401.4 327.4,401.4 327.4,399.4 327.3,399.4 327.3,397.3 327.2,397.3 327.2,395.3" fill="#ffa800" />
<polygon points="323.5,398.4 322.7,398.4 322.7,400.9 321.8,400.9 321.8,403.5 321.0,403.5 321.0,406.0 320.4,406.0 320.4,408.5 319.7,408.5 319.7,411.1 319.1,411.1 319.1,413.6 317.8,413.6 317.8,416.3 316.5,416.3 316.5,419.0 315.6,419.0 315.6,421.8 314.7,421.8 314.7,424.5 314.3,424.5 314.3,426.7 313.9,426.7 313.9,428.9 313.4,428.9 313.4,431.1 313.0,431.1 313.0,433.3 312.6,433.3 312.6,435.5 312.3,435.5 312.3,437.8 312.1,437.8 312.1,440.0 311.8,440.0 311.8,442.2 311.5,442.2 311.5,444.5 327.2,444.5 327.2,444.5 327.2,442.4 327.2,442.4 327.2,440.3 327.2,440.3 327.2,438.2 327.2,438.2 327.2,436.1 327.2,436.1 327.2,434.0 327.2,434.0 327.2,431.9 327.2,431.9 327.2,429.8 327.2,429.8 327.2,427.7 327.2,427.7 327.2,425.6 327.2,425.6 327.2,423.5 327.3,423.5 327.3,421.4 327.4,421.4 327.4,419.2 327.5,419.2 327.5,417.1 327.6,417.1 327.6,415.0 327.7,415.0 327.7,412.8 327.8,412.8 327.8,410.7 327.7,410.7 327.7,408.6 327.6,408.6 327.6,406.4 327.5,406.4 327.5,404.2 327.4,404.2 327.4,402.1 327.3,402.1 327.3,399.9 327.2,399.9 327.2,397.8 326.6,397.8 326.6,395.9 326.0,395.9 326.0,394.0 320.0,394.0" fill="#ff7f00" />
<polyline points="321.0,396.0 320.2,396.0 320.2,398.0 319.3,398.0 319.3,400.0 318.5,400.0 318.5,402.0 317.3,402.0 317.3,404.2 316.2,404.2 316.2,406.3 315.0,406.3 315.0,408.5 313.8,408.5 313.8,411.1 312.6,411.1 312.6,413.6 310.8,413.6 310.8,416.1 309.0,416.1 309.0,418.5 307.5,418.5 307.5,420.4 306.0,420.4 306.0,422.4 304.5,422.4 304.5,424.6 303.1,424.6 303.1,426.7 301.6,426.7 301.6,428.9 299.4,428.9 299.4,430.4 297.3,430.4 297.3,431.8 295.1,431.8 295.1,433.3 292.9,433.3 292.9,435.5 290.7,435.5 290.7,437.6 290.3,437.6 290.3,439.9 290.0,439.9 290.0,442.2 289.6,442.2 289.6,444.5" fill="none" stroke="#ffffff" stroke-width="0.90" />
<polyline points="338.1,444.5 337.5,444.5 337.5,442.4 336.8,442.4 336.8,440.2 336.0,440.2 336.0,438.1 335.1,438.1 335.1,435.9 334.3,435.9 334.3,433.8 333.6,433.8 333.6,431.2 333.0,431.2 333.0,428.7 332.3,428.7 332.3,426.1 332.0,426.1 332.0,424.2 331.6,424.2 331.6,422.2 331.3,422.2 331.3,420.3 331.0,420.3 331.0,418.4 330.1,418.4 330.1,416.4 329.1,416.4 329.1,414.5 328.8,414.5 328.8,412.2 328.5,412.2 328.5,410.0 328.1,410.0 328.1,407.8 327.8,407.8 327.8,405.5 327.7,405.5 327.7,403.5 327.6,403.5 327.6,401.4 327.4,401.4 327.4,399.4 327.3,399.4 327.3,397.3 327.2,397.3 327.2,395.3" fill="none" stroke="#ffffff" stroke-width="0.90" />
<polygon points="316.5,336.8 332.6,336.8 332.6,340.0 329.5,348.0 328.8,360.0 328.8,392.0 317.3,392.0" fill="#ffff00" />
<polygon points="329.0,336.8 332.6,336.8 332.6,339.0 330.0,345.0" fill="#60ff40" />
<polygon points="318.2,336.8 331.0,336.8 328.5,346.0 327.8,360.0 327.6,394.0 318.8,394.0 318.5,360.0" fill="#ff7f00" />
<polygon points="319.0,336.8 325.0,336.8 323.8,350.0 323.2,370.0 322.8,396.0 320.4,396.0 319.8,370.0 319.4,350.0" fill="#ff4000" />
<polyline points="327.6,337.5 325.8,350.0 325.5,365.0 325.6,385.0 326.5,394.0" fill="none" stroke="#ffffff" stroke-width="0.80" />
<clipPath id="ctr"><path d="M278.7,289.2 H332.2 V325.3 Q332.2,336.8 320.7,336.8 H290.2 Q278.7,336.8 278.7,325.3 Z"/></clipPath>
<linearGradient id="gct" x1="0" x2="1" y1="0" y2="0"><stop offset="0" stop-color="#0068ff"/><stop offset="0.3" stop-color="#0098ff"/><stop offset="0.6" stop-color="#00c4ff"/><stop offset="0.85" stop-color="#00e0ff"/><stop offset="1" stop-color="#00e8ff"/></linearGradient>
<g clip-path="url(#ctr)">
<rect x="278" y="289.2" width="55" height="50" fill="url(#gct)"/>
<polygon points="278.7,289.2 332.2,289.2 332.2,304.5 278.7,304.5" fill="#0a84ff" />
<polygon points="278.7,289.2 306.0,289.2 304.0,304.5 278.7,304.5" fill="#0a58ff" />
<polygon points="278.7,289.2 292.0,289.2 290.0,300.0 278.7,300.0" fill="#0630ff" />
<ellipse cx="286" cy="291.7" rx="5" ry="4" fill="#0418ff"/>
<polygon points="322.0,289.2 332.2,289.2 332.2,304.5 320.0,304.5" fill="#10a8ff" />
<linearGradient id="gcl2" x1="0" x2="0" y1="0" y2="1"><stop offset="0" stop-color="#0058ff"/><stop offset="1" stop-color="#0070ff"/></linearGradient>
<rect x="278.7" y="304.5" width="4.4" height="26" fill="url(#gcl2)"/>
<linearGradient id="gcr2" x1="0" x2="0" y1="0" y2="1"><stop offset="0" stop-color="#10b0ff"/><stop offset="1" stop-color="#00e0ff"/></linearGradient>
<rect x="328.2" y="304.5" width="4.2" height="26" fill="url(#gcr2)"/>
</g>
<path d="M278.7,289.2 H332.2 V325.3 Q332.2,336.8 320.7,336.8 H290.2 Q278.7,336.8 278.7,325.3 Z" fill="none" stroke="#505050" stroke-width="0.8"/>
<path d="M283.1,306.5 Q283.1,304.5 285.1,304.5 H326.2 Q328.2,304.5 328.2,306.5 V319.8 Q328.2,327.8 320.2,327.8 H291.1 Q283.1,327.8 283.1,319.8 Z" fill="#ffffff" stroke="#9010a0" stroke-width="1.0"/>
<path d="M240.6,289.2 V378 Q240.6,393.2 255.8,393.2 H290.4 Q305.6,393.2 305.6,378 V336.8" fill="none" stroke="#505050" stroke-width="0.8"/>
<path d="M317.3,336.8 V386 Q317.3,396.6 328,396.6 H409.3" fill="none" stroke="#505050" stroke-width="0.8"/>
<path d="M332.7,351 V385 Q332.7,396.6 344.3,396.6" fill="none" stroke="#505050" stroke-width="0.8"/>
</g>
<path d="M213.3,328.2 H226 Q236.1,328.2 236.1,318 V289.2 H278.7" fill="none" stroke="#ff30ff" stroke-width="1.1"/>
<polyline points="332.2,289.2 409.3,289.2" fill="none" stroke="#ff30ff" stroke-width="1.10" />
<polyline points="213.6,328.2 213.6,443.0" fill="none" stroke="#707070" stroke-width="0.80" />
<polyline points="409.0,289.2 409.0,443.0" fill="none" stroke="#707070" stroke-width="0.80" />
<text x="368.4" y="459.4" font-family="'Liberation Serif', serif" font-size="14.5">(<tspan font-weight="bold">c</tspan>)</text>
<rect x="421.9" y="317.80" width="15.0" height="4.00" fill="#ff0000"/>
<rect x="421.9" y="321.50" width="15.0" height="4.00" fill="#ff1c00"/>
<rect x="421.9" y="325.20" width="15.0" height="3.80" fill="#ff4400"/>
<rect x="421.9" y="328.70" width="15.0" height="3.60" fill="#ff6a00"/>
<rect x="421.9" y="332.00" width="15.0" height="3.30" fill="#ff8a00"/>
<rect x="421.9" y="335.00" width="15.0" height="2.90" fill="#ffaa00"/>
<rect x="421.9" y="337.60" width="15.0" height="2.70" fill="#ffcc00"/>
<rect x="421.9" y="340.00" width="15.0" height="9.80" fill="#ffff00"/>
<rect x="421.9" y="349.50" width="15.0" height="4.40" fill="#e4ff14"/>
<rect x="421.9" y="353.60" width="15.0" height="5.20" fill="#b0ff28"/>
<rect x="421.9" y="358.50" width="15.0" height="29.30" fill="#00ff00"/>
<rect x="421.9" y="387.50" width="15.0" height="3.30" fill="#00f080"/>
<rect x="421.9" y="390.50" width="15.0" height="3.30" fill="#00ffa4"/>
<rect x="421.9" y="393.50" width="15.0" height="3.30" fill="#00ffc4"/>
<rect x="421.9" y="396.50" width="15.0" height="3.30" fill="#00ffe2"/>
<rect x="421.9" y="399.50" width="15.0" height="13.30" fill="#00fffa"/>
<rect x="421.9" y="412.50" width="15.0" height="2.40" fill="#00e0ff"/>
<rect x="421.9" y="414.60" width="15.0" height="2.40" fill="#00c8ff"/>
<rect x="421.9" y="416.70" width="15.0" height="2.40" fill="#00a8ff"/>
<rect x="421.9" y="418.80" width="15.0" height="2.30" fill="#0090ff"/>
<rect x="421.9" y="420.80" width="15.0" height="2.50" fill="#0070ff"/>
<rect x="421.9" y="423.00" width="15.0" height="2.30" fill="#0058ff"/>
<rect x="421.9" y="425.00" width="15.0" height="2.80" fill="#0040ff"/>
<rect x="421.9" y="427.50" width="15.0" height="2.80" fill="#0020ff"/>
<rect x="421.9" y="430.00" width="15.0" height="5.70" fill="#0000ff"/>
<text x="417.8" y="311" font-family="'Liberation Sans', sans-serif" font-size="11.5" fill="#151515" stroke="#151515" stroke-width="0.5" textLength="129" lengthAdjust="spacingAndGlyphs">CurrentDensity(A<tspan font-size="9">∗</tspan>cm<tspan font-size="8.5" dy="-4.8">-2</tspan><tspan dy="4.8">)</tspan></text>
<text x="441.3" y="327.5" font-family="'Liberation Sans', sans-serif" font-size="12" fill="#111" stroke="#111" stroke-width="0.42">5.000<tspan dx="4">×</tspan><tspan dx="4.3">10</tspan><tspan font-size="8.5" dy="-4.6" dx="0.5">6</tspan></text>
<text x="441.3" y="346.0" font-family="'Liberation Sans', sans-serif" font-size="12" fill="#111" stroke="#111" stroke-width="0.42">1.357<tspan dx="4">×</tspan><tspan dx="4.3">10</tspan><tspan font-size="8.5" dy="-4.6" dx="0.5">3</tspan></text>
<text x="441.3" y="364.5" font-family="'Liberation Sans', sans-serif" font-size="12" fill="#111" stroke="#111" stroke-width="0.42">3.684<tspan dx="4">×</tspan><tspan dx="4.3">10</tspan><tspan font-size="8.5" dy="-4.6" dx="0.5">-1</tspan></text>
<text x="441.3" y="383.0" font-family="'Liberation Sans', sans-serif" font-size="12" fill="#111" stroke="#111" stroke-width="0.42">1.000<tspan dx="4">×</tspan><tspan dx="4.3">10</tspan><tspan font-size="8.5" dy="-4.6" dx="0.5">-4</tspan></text>
<text x="441.3" y="401.5" font-family="'Liberation Sans', sans-serif" font-size="12" fill="#111" stroke="#111" stroke-width="0.42">2.714<tspan dx="4">×</tspan><tspan dx="4.3">10</tspan><tspan font-size="8.5" dy="-4.6" dx="0.5">-8</tspan></text>
<text x="441.3" y="420.0" font-family="'Liberation Sans', sans-serif" font-size="12" fill="#111" stroke="#111" stroke-width="0.42">7.638<tspan dx="4">×</tspan><tspan dx="4.3">10</tspan><tspan font-size="8.5" dy="-4.6" dx="0.5">-12</tspan></text>
<text x="441.3" y="438.5" font-family="'Liberation Sans', sans-serif" font-size="12" fill="#111" stroke="#111" stroke-width="0.42">2.000<tspan dx="4">×</tspan><tspan dx="4.3">10</tspan><tspan font-size="8.5" dy="-4.6" dx="0.5">-15</tspan></text>
</svg>
</body></html>
